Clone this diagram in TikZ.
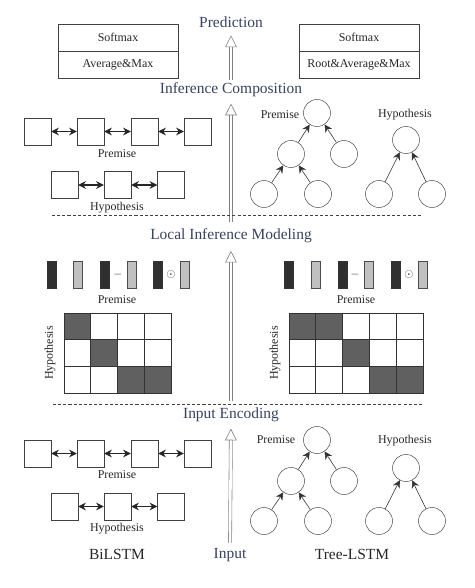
\documentclass[tikz,border=0pt]{standalone}
\usepackage{fontspec}
\setmainfont{Liberation Serif}
\usepackage{xcolor}
\usetikzlibrary{positioning,arrows.meta,calc}

\definecolor{headblue}{RGB}{55,66,96}
\definecolor{darkbar}{RGB}{48,48,48}
\definecolor{lightbar}{RGB}{192,192,192}
\definecolor{cellgray}{RGB}{96,96,96}

\begin{document}
\begin{tikzpicture}[
  x=0.03cm, y=-0.03cm, >={Stealth[length=6.5pt, width=6.5pt]},
  head/.style={text=headblue, font=\fontsize{13.2}{15}\selectfont, inner sep=1pt, anchor=base},
  lbl/.style={text=black!85, font=\fontsize{10.2}{12}\selectfont, inner sep=1pt, anchor=base},
  title/.style={text=black!85, font=\fontsize{13.2}{15}\selectfont, inner sep=1pt, anchor=base},
  outbox/.style={draw=black!75, minimum width=3.6cm, minimum height=0.82cm, inner sep=0pt, text=black!85, font=\fontsize{10.2}{12}\selectfont},
  cellbox/.style={draw=black!75, minimum size=0.81cm, inner sep=0pt},
  unit/.style={draw=black!75, circle, minimum size=0.81cm, inner sep=0pt},
  dkbar/.style={draw=black!80, fill=darkbar, minimum width=0.27cm, minimum height=0.81cm, inner sep=0pt},
  ltbar/.style={draw=black!70, fill=lightbar, minimum width=0.27cm, minimum height=0.81cm, inner sep=0pt},
  link/.style={<->, line width=0.9pt, black!85},
  upedge/.style={->, black!80, line width=0.5pt},
  bigup/.style={draw=gray, double=white, double distance=2.2pt, line width=0.5pt, -{Triangle[open, length=10pt, width=10pt]}},
  sepline/.style={black!75, line width=0.6pt, dash pattern=on 2.6pt off 1.8pt},
  gridline/.style={black!80, line width=0.6pt},
]
\useasboundingbox (0,0) rectangle (474,588);

% ---------- stage labels and the main flow ----------
\node[head] (pred)  at (231,28)  {Prediction};
\node[head] (icomp) at (231,93)  {Inference Composition};
\node[head] (local) at (231,239) {Local Inference Modeling};
\node[head] (enc)   at (231,418) {Input Encoding};
\node[head] (inp)   at (230,558) {Input};
\draw[bigup, shorten >=5pt, shorten <=1pt] (icomp.north) -- (pred.south);
\draw[bigup, shorten >=5pt, shorten <=4pt] (local.north) -- (icomp.south);
\draw[bigup, shorten >=6pt, shorten <=4pt] (enc.north) -- (local.south);
\draw[bigup, shorten >=5pt, shorten <=3pt] (inp.north) -- (enc.south);

% ---------- prediction boxes ----------
\node[outbox] (soft1) at (118,37.5) {Softmax};
\node[outbox] (pool1) at (118,64.6) {Average\&Max};
\node[outbox] (soft2) at (359,37.5) {Softmax};
\node[outbox] (pool2) at (359,64.6) {Root\&Average\&Max};

% ---------- composition: BiLSTM ----------
\node[cellbox] (cp1) at (37.5,131.5)  {};
\node[cellbox] (cp2) at (90.5,131.5)  {};
\node[cellbox] (cp3) at (144.5,131.5) {};
\node[cellbox] (cp4) at (197.5,131.5) {};
\draw[link] (cp1) -- (cp2);
\draw[link] (cp2) -- (cp3);
\draw[link] (cp3) -- (cp4);
\node[lbl] (cplab) at (117,157) {Premise};
\node[cellbox] (ch1) at (64.5,185)  {};
\node[cellbox] (ch2) at (117.5,185) {};
\node[cellbox] (ch3) at (171,185)   {};
\draw[link] (ch1) -- (ch2);
\draw[link] (ch2) -- (ch3);
\node[lbl] (chlab) at (117,210) {Hypothesis};

% ---------- composition: Tree-LSTM ----------
\node[lbl] (ctplab) at (280,118) {Premise};
\node[unit] (ctp)  at (317,113) {};
\node[unit] (ctpm) at (291,154) {};
\node[unit] (ctpc) at (344,154) {};
\node[unit] (ctl1) at (264,194) {};
\node[unit] (ctl2) at (318,194) {};
\draw[upedge] (ctpm) -- (ctp);
\draw[upedge] (ctpc) -- (ctp);
\draw[upedge] (ctl1) -- (ctpm);
\draw[upedge] (ctl2) -- (ctpm);
\node[lbl] (cthlab) at (405,117) {Hypothesis};
\node[unit] (cth)  at (406,140) {};
\node[unit] (cth1) at (379,194) {};
\node[unit] (cth2) at (432,194) {};
\draw[upedge] (cth1) -- (cth);
\draw[upedge] (cth2) -- (cth);

\coordinate (sep1l) at (52,215);
\coordinate (sep1r) at (421,215);
\draw[sepline] (sep1l) -- (sep1r);

% ---------- local inference: left ----------
\node[dkbar] (la1) at (51.5,275)  {};
\node[ltbar] (lb1) at (77.5,275)  {};
\node[dkbar] (la2) at (104.5,275) {};
\node[lbl, anchor=center] (lminus) at (118,275) {$-$};
\node[ltbar] (lb2) at (131.5,275) {};
\node[dkbar] (la3) at (157.5,275) {};
\node[lbl, anchor=center] (lodot) at (171,275) {$\odot$};
\node[ltbar] (lb3) at (184.5,275) {};
\node[lbl] (lplab) at (117,303) {Premise};
\fill[cellgray] (64,313) rectangle +(26.8,26.8);
\fill[cellgray] (90.8,339.8) rectangle +(26.8,26.8);
\fill[cellgray] (117.6,366.6) rectangle +(53.6,26.8);
\draw[gridline, shift={(64,313)}, step=0.804cm] (0,0) grid (107.2,80.4);
\draw[gridline] (64,313) rectangle (171.2,393.4);
\node[lbl, anchor=center, rotate=90] (lhlab) at (50,353) {Hypothesis};

% ---------- local inference: right ----------
\node[dkbar] (ra1) at (289,275)   {};
\node[ltbar] (rb1) at (315.5,275) {};
\node[dkbar] (ra2) at (342.5,275) {};
\node[lbl, anchor=center] (rminus) at (355,275) {$-$};
\node[ltbar] (rb2) at (368.5,275) {};
\node[dkbar] (ra3) at (395.5,275) {};
\node[lbl, anchor=center] (rodot) at (409,275) {$\odot$};
\node[ltbar] (rb3) at (422.5,275) {};
\node[lbl] (rplab) at (356,303) {Premise};
\fill[cellgray] (289,313) rectangle +(53.6,26.8);
\fill[cellgray] (342.6,339.8) rectangle +(26.8,26.8);
\fill[cellgray] (369.4,366.6) rectangle +(53.6,26.8);
\draw[gridline, shift={(289,313)}, step=0.804cm] (0,0) grid (134,80.4);
\draw[gridline] (289,313) rectangle (423,393.4);
\node[lbl, anchor=center, rotate=90] (rhlab) at (275,353) {Hypothesis};

\coordinate (sep2l) at (53,404);
\coordinate (sep2r) at (423,404);
\draw[sepline] (sep2l) -- (sep2r);

% ---------- input encoding: BiLSTM ----------
\node[cellbox] (ep1) at (37.5,453.5)  {};
\node[cellbox] (ep2) at (90.5,453.5)  {};
\node[cellbox] (ep3) at (144.5,453.5) {};
\node[cellbox] (ep4) at (197.5,453.5) {};
\draw[link] (ep1) -- (ep2);
\draw[link] (ep2) -- (ep3);
\draw[link] (ep3) -- (ep4);
\node[lbl] (eplab) at (117,478) {Premise};
\node[cellbox] (eh1) at (64.5,506.5)  {};
\node[cellbox] (eh2) at (117.5,506.5) {};
\node[cellbox] (eh3) at (171,506.5)   {};
\draw[link] (eh1) -- (eh2);
\draw[link] (eh2) -- (eh3);
\node[lbl] (ehlab) at (117,531) {Hypothesis};
\node[title] (bilstm) at (117,559) {BiLSTM};

% ---------- input encoding: Tree-LSTM ----------
\node[lbl] (etplab) at (276,443) {Premise};
\node[unit] (etp)  at (317,440) {};
\node[unit] (etpm) at (291,481) {};
\node[unit] (etpc) at (344,481) {};
\node[unit] (etl1) at (264,521) {};
\node[unit] (etl2) at (318,521) {};
\draw[upedge] (etpm) -- (etp);
\draw[upedge] (etpc) -- (etp);
\draw[upedge] (etl1) -- (etpm);
\draw[upedge] (etl2) -- (etpm);
\node[lbl] (ethlab) at (405,443) {Hypothesis};
\node[unit] (eth)  at (406,468) {};
\node[unit] (eth1) at (379,521) {};
\node[unit] (eth2) at (432,521) {};
\draw[upedge] (eth1) -- (eth);
\draw[upedge] (eth2) -- (eth);
\node[title] (treelstm) at (352,559) {Tree-LSTM};
\end{tikzpicture}
\end{document}
